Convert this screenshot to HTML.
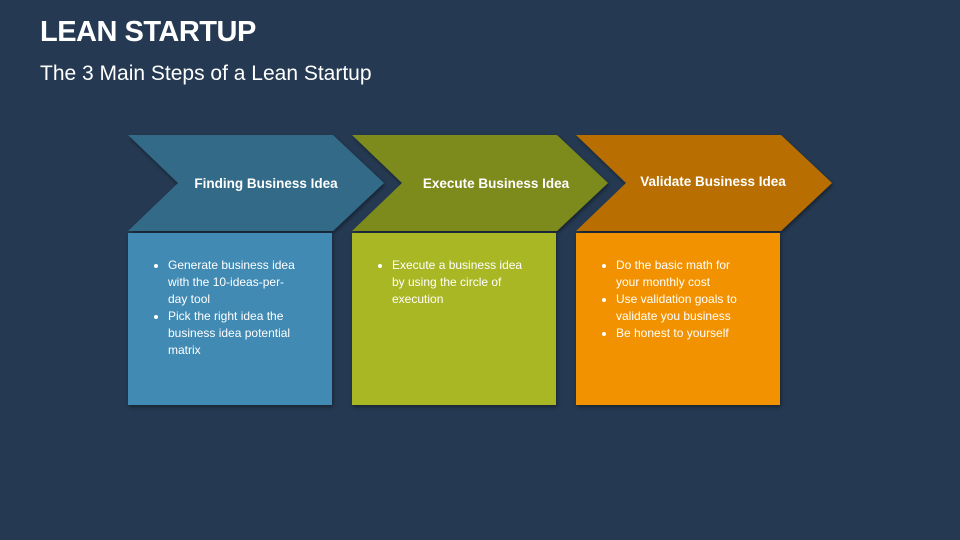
<!DOCTYPE html>
<html><head><style>
body{margin:0;width:960px;height:540px;background:#253a52;font-family:"Liberation Sans",sans-serif;position:relative;overflow:hidden;color:#fff}
h1{position:absolute;left:40px;top:16px;margin:0;font-size:29px;font-weight:bold;letter-spacing:-0.5px}
h2{position:absolute;left:40px;top:62px;margin:0;font-size:21px;font-weight:normal}
.lab{position:absolute;font-size:13.5px;font-weight:bold;text-align:center;width:200px}
.box{position:absolute;top:233px;width:204px;height:172px;box-shadow:1px 2px 4px rgba(0,0,0,.4)}
ul{margin:0;padding:0 0 0 40px;position:absolute;top:24px;font-size:12px;line-height:17px;width:135px}
li{padding-left:0}
</style></head><body>
<h1>LEAN STARTUP</h1>
<h2>The 3 Main Steps of a Lean Startup</h2>
<svg width="960" height="540" style="position:absolute;left:0;top:0">
<defs><filter id="s"><feDropShadow dx="1" dy="2" stdDeviation="2" flood-opacity=".45"/></filter></defs>
<polygon filter="url(#s)" fill="#316a87" points="128,135 333,135 384,183 333,231 128,231 178,183"/>
<polygon filter="url(#s)" fill="#7d8a1f" points="352,135 557,135 608,183 557,231 352,231 402,183"/>
<polygon filter="url(#s)" fill="#b86e00" points="576,135 781,135 832,183 781,231 576,231 626,183"/>
</svg>
<div class="lab" style="left:166px;top:176px">Finding Business Idea</div>
<div class="lab" style="left:396px;top:176px">Execute Business Idea</div>
<div class="lab" style="left:613px;top:174px">Validate Business Idea</div>
<div class="box" style="left:128px;background:#408ab4"><ul><li>Generate business idea with the 10-ideas-per-day tool</li><li>Pick the right idea the business idea potential matrix</li></ul></div>
<div class="box" style="left:352px;background:#a9b724"><ul><li>Execute a business idea by using the circle of execution</li></ul></div>
<div class="box" style="left:576px;background:#f39200"><ul><li>Do the basic math for your monthly cost</li><li>Use validation goals to validate you business</li><li>Be honest to yourself</li></ul></div>
</body></html>
